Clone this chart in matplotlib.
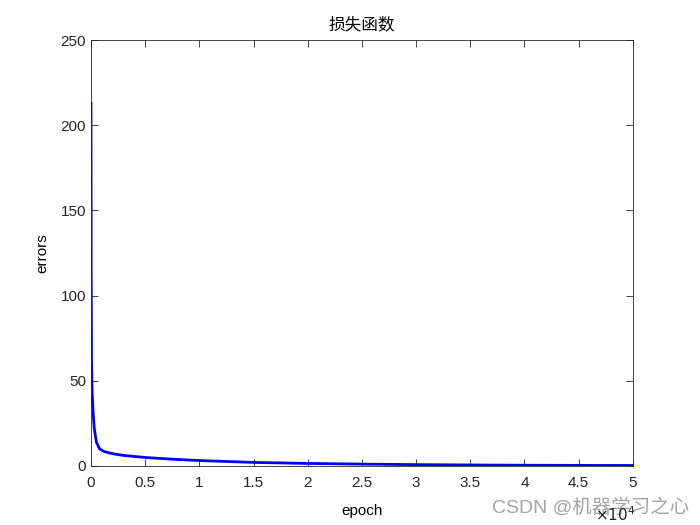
import numpy as np
import matplotlib
matplotlib.use('Agg')
import matplotlib.pyplot as plt
from matplotlib.ticker import FuncFormatter

plt.rcParams['font.family'] = ['Liberation Sans', 'Noto Sans CJK SC', 'DejaVu Sans']

# valori (epoch, errore)
epoch = [0, 20, 50, 100, 200, 300, 500, 800, 1200, 2000, 3000, 5000, 7500,
         10000, 15000, 20000, 25000, 30000, 35000, 40000, 45000, 50000]
errors = [213, 110, 60, 44, 31, 22, 14, 10, 8.5, 7.2, 6.2, 5.0, 4.0,
          3.2, 2.1, 1.5, 1.1, 0.8, 0.6, 0.45, 0.35, 0.3]

fig = plt.figure(figsize=(7, 5.25), dpi=100)
ax = fig.add_axes([0.13, 0.1124, 0.774, 0.8114])
ax.plot(epoch, errors, color='blue', linewidth=2)

ax.set_xlim(0, 50000)
ax.set_ylim(0, 250)
ax.set_xticks(np.arange(0, 50001, 5000))
ax.set_yticks(np.arange(0, 251, 50))

# etichette in unita di 10^4 come in MATLAB
ax.xaxis.set_major_formatter(FuncFormatter(lambda v, p: '%g' % (v / 1e4)))

ax.tick_params(direction='in', top=True, right=True, labelsize=11, length=5, width=0.6, colors='#262626')
ax.tick_params(axis='x', pad=7)
for s in ax.spines.values():
    s.set_linewidth(0.6)
    s.set_color('#262626')

ax.set_xlabel('epoch', fontsize=11, labelpad=10)
ax.set_ylabel('errors', fontsize=11, labelpad=8)
ax.set_title('损失函数', fontsize=12, family=['Noto Sans CJK SC'], pad=8)

fig.text(0.985, 0.034, 'CSDN @机器学习之心', fontsize=14, color='#9a9a9a', alpha=0.9,
         ha='right', va='center', family=['Liberation Sans', 'Noto Sans CJK SC'])
fig.text(0.85, 0.02, r'$\times10^4$', fontsize=11, color='#262626', ha='left', va='center')

plt.savefig('out.png', dpi=100)
